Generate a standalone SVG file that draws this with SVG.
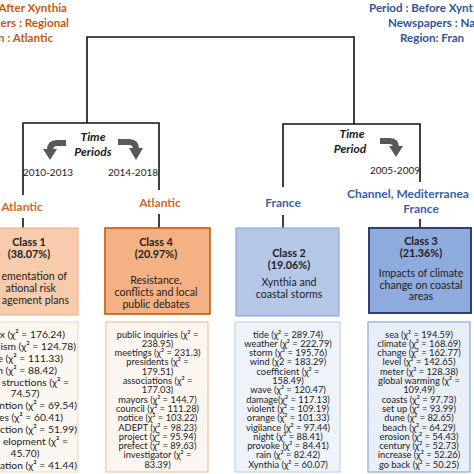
<svg xmlns="http://www.w3.org/2000/svg" width="474" height="474" viewBox="0 0 474 474">
<style>
text{font-family:Lato,'Liberation Sans',sans-serif}
.hl{font-weight:bold;font-size:11.6px;fill:#c55a11;text-anchor:end}
.hr{font-weight:bold;font-size:11.6px;fill:#2f5597}
.lo{font-weight:bold;font-size:12px;fill:#d0692a;text-anchor:middle}
.lb{font-weight:bold;font-size:12px;fill:#3a5fa6;text-anchor:middle}
.tp{font-weight:bold;font-style:italic;font-size:12px;text-anchor:middle;fill:#1a1a1a}
.yr{font-size:10px;text-anchor:middle;fill:#222}
.ct{font-weight:bold;font-size:10.8px;text-anchor:middle;fill:#222}
.cd{font-size:10.6px;text-anchor:middle;fill:#222}
.cde{font-size:10.6px;text-anchor:end;fill:#222}
.ls{font-size:9.3px;text-anchor:middle;fill:#222}
.l1{font-size:10.3px;text-anchor:end;fill:#222}
.l1m{font-size:10.3px;text-anchor:middle;fill:#222}
.ln{stroke:#111;stroke-width:1.6;fill:none}
.ar{stroke:#595959;stroke-width:6;fill:none}
.ah{fill:#595959}
</style>

<g id="header-left">
<text class="hl" x="67" y="12">After Xynthia</text>
<text class="hl" x="69" y="27">ers : Regional</text>
<text class="hl" x="53" y="42">n : Atlantic</text>
</g>
<g id="header-right">
<text class="hr" x="369" y="12">Period : Before Xynt</text>
<text class="hr" x="388" y="27">Newspapers : Na</text>
<text class="hr" x="400" y="42">Region: Fran</text>
</g>

<g id="connectors">
<path class="ln" d="M87,123 V37 H354 V124"/>
<path class="ln" d="M23,195 V123 H159 V190"/>
<path class="ln" d="M23,218 V228"/>
<path class="ln" d="M159,214 V228"/>
<path class="ln" d="M283,187 V124 H420 V182"/>
<path class="ln" d="M283,215 V228"/>
<path class="ln" d="M420,219 V228"/>
<path class="ar" d="M66,143 H57 Q50,143 50,150"/>
<polygon class="ah" points="43,149 57,149 50,160"/>
<path class="ar" d="M118,142 H129 Q136,142 136,149"/>
<polygon class="ah" points="129,148 143,148 136,160"/>
<path class="ar" d="M380,141 H389 Q396,141 396,147"/>
<polygon class="ah" points="389,146 403,146 396,157"/>
</g>

<g id="split-left">
<text class="tp" x="93" y="141">Time</text>
<text class="tp" x="93" y="156">Periods</text>
<text class="yr" x="48" y="176">2010-2013</text>
<text class="yr" x="133" y="176">2014-2018</text>
</g>
<g id="split-right">
<text class="tp" x="352" y="138">Time</text>
<text class="tp" x="350" y="153">Period</text>
<text class="yr" x="395" y="174">2005-2009</text>
</g>

<g id="label-atlantic-1"><text class="lo" x="22" y="211">Atlantic</text></g>
<g id="label-atlantic-4"><text class="lo" x="160" y="207">Atlantic</text></g>
<g id="label-france-2"><text class="lb" x="283" y="207">France</text></g>
<g id="label-france-3">
<text class="lb" x="347" y="198" style="text-anchor:start">Channel, Mediterranea</text>
<text class="lb" x="421" y="213">France</text>
</g>

<g id="class1">
<rect x="-20" y="228" width="98" height="87" fill="#f8cbad" stroke="#f2b58c" stroke-width="1.2"/>
<text class="ct" x="29" y="246">Class 1</text>
<text class="ct" x="29" y="258">(38.07%)</text>
<text class="cde" x="67" y="280">ementation of</text>
<text class="cde" x="56" y="292">ational risk</text>
<text class="cde" x="69" y="304">agement plans</text>
</g>
<g id="class4">
<rect x="105" y="228" width="105" height="86" fill="#f4b183" stroke="#c55a11" stroke-width="1.6"/>
<text class="ct" x="156" y="246">Class 4</text>
<text class="ct" x="156" y="258">(20.97%)</text>
<text class="cd" x="156" y="284">Resistance,</text>
<text class="cd" x="156" y="296">conflicts and local</text>
<text class="cd" x="156" y="308">public debates</text>
</g>
<g id="class2">
<rect x="236" y="228" width="103" height="88" fill="#b4c7e7" stroke="#8faadc" stroke-width="1.2"/>
<text class="ct" x="289" y="257">Class 2</text>
<text class="ct" x="289" y="269">(19.06%)</text>
<text class="cd" x="289" y="286">Xynthia and</text>
<text class="cd" x="289" y="298">coastal storms</text>
</g>
<g id="class3">
<rect x="369" y="228" width="102" height="85" fill="#8faadc" stroke="#2f3f6f" stroke-width="2"/>
<text class="ct" x="421" y="245">Class 3</text>
<text class="ct" x="421" y="257">(21.36%)</text>
<text class="cd" x="421" y="277">Impacts of climate</text>
<text class="cd" x="421" y="288.5">change on coastal</text>
<text class="cd" x="421" y="300">areas</text>
</g>

<g id="words1">
<rect x="-20" y="322" width="98" height="150" fill="#fdf7f2" stroke="#f3dac6" stroke-width="1.2"/>
<text class="l1" x="65" y="338">x (χ² = 176.24)</text>
<text class="l1" x="76" y="350">ism (χ² = 124.78)</text>
<text class="l1" x="63" y="362">e (χ² = 111.33)</text>
<text class="l1" x="57" y="374">n (χ² = 88.42)</text>
<text class="l1" x="69" y="386">structions (χ² =</text>
<text class="l1m" x="25" y="397">74.57)</text>
<text class="l1" x="77" y="409">ntion (χ² = 69.54)</text>
<text class="l1" x="63" y="421">es (χ² = 60.41)</text>
<text class="l1" x="77" y="433">ction (χ² = 51.99)</text>
<text class="l1" x="68" y="445">elopment (χ² =</text>
<text class="l1m" x="25" y="457">45.70)</text>
<text class="l1" x="77" y="469">ation (χ² = 41.44)</text>
</g>
<g id="words4">
<rect x="106" y="322" width="102" height="150" fill="#fdf6f0" stroke="#f0c5a2" stroke-width="1.2"/>
<text class="ls" x="157.5" y="337.5">public inquiries (χ² =</text>
<text class="ls" x="157.5" y="346.8">238.95)</text>
<text class="ls" x="157.5" y="356.1">meetings (χ² = 231.3)</text>
<text class="ls" x="157.5" y="365.4">presidents (χ² =</text>
<text class="ls" x="157.5" y="374.7">179.51)</text>
<text class="ls" x="157.5" y="384">associations (χ² =</text>
<text class="ls" x="157.5" y="393.3">177.03)</text>
<text class="ls" x="157.5" y="402.6">mayors (χ² = 144.7)</text>
<text class="ls" x="157.5" y="411.9">council (χ² = 111.28)</text>
<text class="ls" x="157.5" y="421.2">notice (χ² = 103.22)</text>
<text class="ls" x="157.5" y="430.5">ADEPT (χ² = 98.23)</text>
<text class="ls" x="157.5" y="439.8">project (χ² = 95.94)</text>
<text class="ls" x="157.5" y="449.1">prefect  (χ² = 89.63)</text>
<text class="ls" x="157.5" y="458.4">investigator (χ² =</text>
<text class="ls" x="157.5" y="467.7">83.39)</text>
</g>
<g id="words2">
<rect x="235" y="322" width="105" height="150" fill="#eef3fa" stroke="#c6d5ea" stroke-width="1.2"/>
<text class="ls" x="288" y="337.5">tide (χ² =  289.74)</text>
<text class="ls" x="288" y="346.8">weather (χ² = 222.79)</text>
<text class="ls" x="288" y="356.1">storm (χ² = 195.76)</text>
<text class="ls" x="288" y="365.4">wind (χ2 = 183.29)</text>
<text class="ls" x="288" y="374.7">coefficient (χ² =</text>
<text class="ls" x="288" y="384">158.49)</text>
<text class="ls" x="288" y="393.3">wave (χ² = 120.47)</text>
<text class="ls" x="288" y="402.6">damage(χ² = 117.13)</text>
<text class="ls" x="288" y="411.9">violent (χ² = 109.19)</text>
<text class="ls" x="288" y="421.2">orange (χ² = 101.33)</text>
<text class="ls" x="288" y="430.5">vigilance (χ² = 97.44)</text>
<text class="ls" x="288" y="439.8">night (χ² = 88.41)</text>
<text class="ls" x="288" y="449.1">provoke (χ² = 84.41)</text>
<text class="ls" x="288" y="458.4">rain (χ² = 82.42)</text>
<text class="ls" x="288" y="467.7">Xynthia (χ² = 60.07)</text>
</g>
<g id="words3">
<rect x="368" y="322" width="102" height="150" fill="#e9eff8" stroke="#9bb3da" stroke-width="1.4"/>
<text class="ls" x="419" y="337.5">sea (χ² = 194.59)</text>
<text class="ls" x="419" y="346.8">climate (χ² = 168.69)</text>
<text class="ls" x="419" y="356.1">change (χ² = 162.77)</text>
<text class="ls" x="419" y="365.4">level (χ² = 142.65)</text>
<text class="ls" x="419" y="374.7">meter (χ² = 128.38)</text>
<text class="ls" x="419" y="384">global warming (χ² =</text>
<text class="ls" x="419" y="393.3">109.49)</text>
<text class="ls" x="419" y="402.6">coasts (χ² = 97.73)</text>
<text class="ls" x="419" y="411.9">set up (χ² = 93.99)</text>
<text class="ls" x="419" y="421.2">dune (χ² = 82.65)</text>
<text class="ls" x="419" y="430.5">beach (χ² = 64.29)</text>
<text class="ls" x="419" y="439.8">erosion (χ² = 54.43)</text>
<text class="ls" x="419" y="449.1">century (χ² = 52.73)</text>
<text class="ls" x="419" y="458.4">increase (χ² = 52.26)</text>
<text class="ls" x="419" y="467.7">go back (χ² = 50.25)</text>
</g>
</svg>
